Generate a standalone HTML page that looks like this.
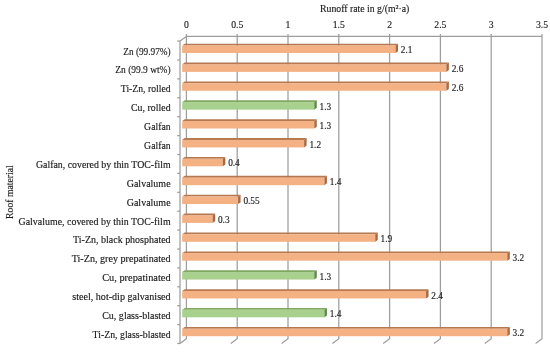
<!DOCTYPE html><html><head><meta charset="utf-8"><style>html,body{margin:0;padding:0;background:#fff;}svg{display:block;}text{font-family:"Liberation Serif",serif;fill:#1a1a1a;stroke:#1a1a1a;stroke-width:0.14px;}</style></head><body>
<svg width="550" height="352" viewBox="0 0 550 352">
<rect width="550" height="352" fill="#fff"/>
<g stroke="#9e9e9e" stroke-width="1.25" fill="none">
<line x1="186.40" y1="36.40" x2="542.00" y2="36.40"/>
<polyline points="186.40,34.10 186.40,338.80 180.00,343.50"/>
<polyline points="237.20,34.10 237.20,338.80 230.80,343.50"/>
<polyline points="288.00,34.10 288.00,338.80 281.60,343.50"/>
<polyline points="338.80,34.10 338.80,338.80 332.40,343.50"/>
<polyline points="389.60,34.10 389.60,338.80 383.20,343.50"/>
<polyline points="440.40,34.10 440.40,338.80 434.00,343.50"/>
<polyline points="491.20,34.10 491.20,338.80 484.80,343.50"/>
<polyline points="542.00,34.10 542.00,338.80 535.60,343.50"/>
<polyline points="186.40,36.40 180.00,41.10 180.00,343.50"/>
<line x1="177.20" y1="41.10" x2="180.00" y2="41.10"/>
<line x1="177.20" y1="60.00" x2="180.00" y2="60.00"/>
<line x1="177.20" y1="78.90" x2="180.00" y2="78.90"/>
<line x1="177.20" y1="97.80" x2="180.00" y2="97.80"/>
<line x1="177.20" y1="116.70" x2="180.00" y2="116.70"/>
<line x1="177.20" y1="135.60" x2="180.00" y2="135.60"/>
<line x1="177.20" y1="154.50" x2="180.00" y2="154.50"/>
<line x1="177.20" y1="173.40" x2="180.00" y2="173.40"/>
<line x1="177.20" y1="192.30" x2="180.00" y2="192.30"/>
<line x1="177.20" y1="211.20" x2="180.00" y2="211.20"/>
<line x1="177.20" y1="230.10" x2="180.00" y2="230.10"/>
<line x1="177.20" y1="249.00" x2="180.00" y2="249.00"/>
<line x1="177.20" y1="267.90" x2="180.00" y2="267.90"/>
<line x1="177.20" y1="286.80" x2="180.00" y2="286.80"/>
<line x1="177.20" y1="305.70" x2="180.00" y2="305.70"/>
<line x1="177.20" y1="324.60" x2="180.00" y2="324.60"/>
<line x1="177.20" y1="343.50" x2="180.00" y2="343.50"/>
</g>
<polygon points="182.20,45.50 395.56,45.50 398.06,43.70 184.70,43.70" fill="#b57850"/>
<rect x="182.20" y="45.50" width="213.36" height="7.50" fill="#f4b183"/>
<polygon points="395.56,45.50 398.06,43.70 398.06,51.20 395.56,53.00" fill="#a86a42"/>
<text x="400.86" y="53.10" font-size="9.3">2.1</text>
<polygon points="182.20,64.38 446.36,64.38 448.86,62.58 184.70,62.58" fill="#b57850"/>
<rect x="182.20" y="64.38" width="264.16" height="7.50" fill="#f4b183"/>
<polygon points="446.36,64.38 448.86,62.58 448.86,70.08 446.36,71.88" fill="#a86a42"/>
<text x="451.66" y="71.98" font-size="9.3">2.6</text>
<polygon points="182.20,83.26 446.36,83.26 448.86,81.46 184.70,81.46" fill="#b57850"/>
<rect x="182.20" y="83.26" width="264.16" height="7.50" fill="#f4b183"/>
<polygon points="446.36,83.26 448.86,81.46 448.86,88.96 446.36,90.76" fill="#a86a42"/>
<text x="451.66" y="90.86" font-size="9.3">2.6</text>
<polygon points="182.20,102.14 314.28,102.14 316.78,100.34 184.70,100.34" fill="#7fa862"/>
<rect x="182.20" y="102.14" width="132.08" height="7.50" fill="#a9d18e"/>
<polygon points="314.28,102.14 316.78,100.34 316.78,107.84 314.28,109.64" fill="#5e8a48"/>
<text x="319.58" y="109.74" font-size="9.3">1.3</text>
<polygon points="182.20,121.02 314.28,121.02 316.78,119.22 184.70,119.22" fill="#b57850"/>
<rect x="182.20" y="121.02" width="132.08" height="7.50" fill="#f4b183"/>
<polygon points="314.28,121.02 316.78,119.22 316.78,126.72 314.28,128.52" fill="#a86a42"/>
<text x="319.58" y="128.62" font-size="9.3">1.3</text>
<polygon points="182.20,139.90 304.12,139.90 306.62,138.10 184.70,138.10" fill="#b57850"/>
<rect x="182.20" y="139.90" width="121.92" height="7.50" fill="#f4b183"/>
<polygon points="304.12,139.90 306.62,138.10 306.62,145.60 304.12,147.40" fill="#a86a42"/>
<text x="309.42" y="147.50" font-size="9.3">1.2</text>
<polygon points="182.20,158.78 222.84,158.78 225.34,156.98 184.70,156.98" fill="#b57850"/>
<rect x="182.20" y="158.78" width="40.64" height="7.50" fill="#f4b183"/>
<polygon points="222.84,158.78 225.34,156.98 225.34,164.48 222.84,166.28" fill="#a86a42"/>
<text x="228.14" y="166.38" font-size="9.3">0.4</text>
<polygon points="182.20,177.66 324.44,177.66 326.94,175.86 184.70,175.86" fill="#b57850"/>
<rect x="182.20" y="177.66" width="142.24" height="7.50" fill="#f4b183"/>
<polygon points="324.44,177.66 326.94,175.86 326.94,183.36 324.44,185.16" fill="#a86a42"/>
<text x="329.74" y="185.26" font-size="9.3">1.4</text>
<polygon points="182.20,196.54 238.08,196.54 240.58,194.74 184.70,194.74" fill="#b57850"/>
<rect x="182.20" y="196.54" width="55.88" height="7.50" fill="#f4b183"/>
<polygon points="238.08,196.54 240.58,194.74 240.58,202.24 238.08,204.04" fill="#a86a42"/>
<text x="243.38" y="204.14" font-size="9.3">0.55</text>
<polygon points="182.20,215.42 212.68,215.42 215.18,213.62 184.70,213.62" fill="#b57850"/>
<rect x="182.20" y="215.42" width="30.48" height="7.50" fill="#f4b183"/>
<polygon points="212.68,215.42 215.18,213.62 215.18,221.12 212.68,222.92" fill="#a86a42"/>
<text x="217.98" y="223.02" font-size="9.3">0.3</text>
<polygon points="182.20,234.30 375.24,234.30 377.74,232.50 184.70,232.50" fill="#b57850"/>
<rect x="182.20" y="234.30" width="193.04" height="7.50" fill="#f4b183"/>
<polygon points="375.24,234.30 377.74,232.50 377.74,240.00 375.24,241.80" fill="#a86a42"/>
<text x="380.54" y="241.90" font-size="9.3">1.9</text>
<polygon points="182.20,253.18 507.32,253.18 509.82,251.38 184.70,251.38" fill="#b57850"/>
<rect x="182.20" y="253.18" width="325.12" height="7.50" fill="#f4b183"/>
<polygon points="507.32,253.18 509.82,251.38 509.82,258.88 507.32,260.68" fill="#a86a42"/>
<text x="512.62" y="260.78" font-size="9.3">3.2</text>
<polygon points="182.20,272.06 314.28,272.06 316.78,270.26 184.70,270.26" fill="#7fa862"/>
<rect x="182.20" y="272.06" width="132.08" height="7.50" fill="#a9d18e"/>
<polygon points="314.28,272.06 316.78,270.26 316.78,277.76 314.28,279.56" fill="#5e8a48"/>
<text x="319.58" y="279.66" font-size="9.3">1.3</text>
<polygon points="182.20,290.94 426.04,290.94 428.54,289.14 184.70,289.14" fill="#b57850"/>
<rect x="182.20" y="290.94" width="243.84" height="7.50" fill="#f4b183"/>
<polygon points="426.04,290.94 428.54,289.14 428.54,296.64 426.04,298.44" fill="#a86a42"/>
<text x="431.34" y="298.54" font-size="9.3">2.4</text>
<polygon points="182.20,309.82 324.44,309.82 326.94,308.02 184.70,308.02" fill="#7fa862"/>
<rect x="182.20" y="309.82" width="142.24" height="7.50" fill="#a9d18e"/>
<polygon points="324.44,309.82 326.94,308.02 326.94,315.52 324.44,317.32" fill="#5e8a48"/>
<text x="329.74" y="317.42" font-size="9.3">1.4</text>
<polygon points="182.20,328.70 507.32,328.70 509.82,326.90 184.70,326.90" fill="#b57850"/>
<rect x="182.20" y="328.70" width="325.12" height="7.50" fill="#f4b183"/>
<polygon points="507.32,328.70 509.82,326.90 509.82,334.40 507.32,336.20" fill="#a86a42"/>
<text x="512.62" y="336.30" font-size="9.3">3.2</text>
<text x="170.60" y="54.60" font-size="9.7" text-anchor="end" textLength="47.3" lengthAdjust="spacingAndGlyphs">Zn (99.97%)</text>
<text x="170.60" y="73.48" font-size="9.7" text-anchor="end" textLength="55.3" lengthAdjust="spacingAndGlyphs">Zn (99.9 wt%)</text>
<text x="170.60" y="92.36" font-size="9.7" text-anchor="end" textLength="49.8" lengthAdjust="spacingAndGlyphs">Ti-Zn, rolled</text>
<text x="170.60" y="111.24" font-size="9.7" text-anchor="end" textLength="39.6" lengthAdjust="spacingAndGlyphs">Cu, rolled</text>
<text x="170.60" y="130.12" font-size="9.7" text-anchor="end" textLength="26.5" lengthAdjust="spacingAndGlyphs">Galfan</text>
<text x="170.60" y="149.00" font-size="9.7" text-anchor="end" textLength="26.5" lengthAdjust="spacingAndGlyphs">Galfan</text>
<text x="170.60" y="167.88" font-size="9.7" text-anchor="end" textLength="134.7" lengthAdjust="spacingAndGlyphs">Galfan, covered by thin TOC-film</text>
<text x="170.60" y="186.76" font-size="9.7" text-anchor="end" textLength="43.9" lengthAdjust="spacingAndGlyphs">Galvalume</text>
<text x="170.60" y="205.64" font-size="9.7" text-anchor="end" textLength="43.9" lengthAdjust="spacingAndGlyphs">Galvalume</text>
<text x="170.60" y="224.52" font-size="9.7" text-anchor="end" textLength="152.1" lengthAdjust="spacingAndGlyphs">Galvalume, covered by thin TOC-film</text>
<text x="170.60" y="243.40" font-size="9.7" text-anchor="end" textLength="97.5" lengthAdjust="spacingAndGlyphs">Ti-Zn, black phosphated</text>
<text x="170.60" y="262.28" font-size="9.7" text-anchor="end" textLength="98.9" lengthAdjust="spacingAndGlyphs">Ti-Zn, grey prepatinated</text>
<text x="170.60" y="281.16" font-size="9.7" text-anchor="end" textLength="68.4" lengthAdjust="spacingAndGlyphs">Cu, prepatinated</text>
<text x="170.60" y="300.04" font-size="9.7" text-anchor="end" textLength="98.3" lengthAdjust="spacingAndGlyphs">steel, hot-dip galvanised</text>
<text x="170.60" y="318.92" font-size="9.7" text-anchor="end" textLength="68.4" lengthAdjust="spacingAndGlyphs">Cu, glass-blasted</text>
<text x="170.60" y="337.80" font-size="9.7" text-anchor="end" textLength="78.0" lengthAdjust="spacingAndGlyphs">Ti-Zn, glass-blasted</text>
<text x="186.40" y="27.6" font-size="9.7" text-anchor="middle">0</text>
<text x="237.20" y="27.6" font-size="9.7" text-anchor="middle">0.5</text>
<text x="288.00" y="27.6" font-size="9.7" text-anchor="middle">1</text>
<text x="338.80" y="27.6" font-size="9.7" text-anchor="middle">1.5</text>
<text x="389.60" y="27.6" font-size="9.7" text-anchor="middle">2</text>
<text x="440.40" y="27.6" font-size="9.7" text-anchor="middle">2.5</text>
<text x="491.20" y="27.6" font-size="9.7" text-anchor="middle">3</text>
<text x="542.00" y="27.6" font-size="9.7" text-anchor="middle">3.5</text>
<text x="320" y="11.9" font-size="9.7" textLength="89.3" lengthAdjust="spacingAndGlyphs">Runoff rate in g/(m²·a)</text>
<text transform="translate(12.6,218.9) rotate(-90)" x="0" y="0" font-size="9.7" textLength="53.7" lengthAdjust="spacingAndGlyphs">Roof material</text>
</svg></body></html>
